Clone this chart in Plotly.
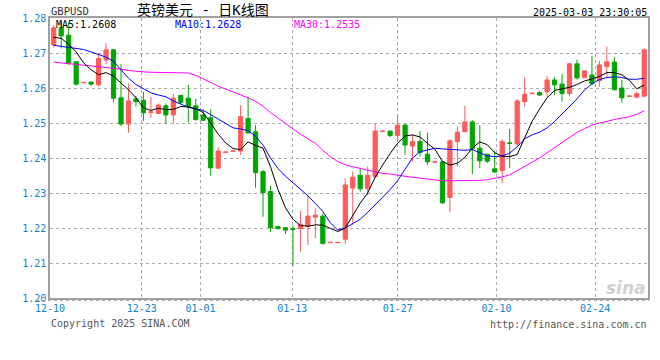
import plotly.graph_objects as go

# ---- data ----
opens = [1.2723, 1.2772, 1.2751, 1.2675, 1.2615, 1.2617, 1.2609, 1.2680, 1.2709, 1.2572,
         1.2497, 1.2569, 1.2565, 1.2530, 1.2527, 1.2549, 1.2523, 1.2579, 1.2571, 1.2549,
         1.2523, 1.2515, 1.2371, 1.2416, 1.2419, 1.2420, 1.2513, 1.2475, 1.2361, 1.2304,
         1.2204, 1.2201, 1.2198, 1.2198, 1.2205, 1.2231, 1.2234, 1.2158, 1.2158, 1.2168,
         1.2314, 1.2351, 1.2312, 1.2347, 1.2476, 1.2477, 1.2464, 1.2494, 1.2434, 1.2447,
         1.2411, 1.2388, 1.2389, 1.2287, 1.2447, 1.2475, 1.2503, 1.2428, 1.2411, 1.2369,
         1.2364, 1.2443, 1.2440, 1.2561, 1.2584, 1.2587, 1.2589, 1.2623, 1.2611, 1.2584,
         1.2669, 1.2629, 1.2637, 1.2621, 1.2661, 1.2674, 1.2600, 1.2576, 1.2574, 1.2577]
highs = [1.2780, 1.2789, 1.2788, 1.2677, 1.2617, 1.2618, 1.2699, 1.2728, 1.2712, 1.2668,
         1.2613, 1.2577, 1.2589, 1.2575, 1.2556, 1.2556, 1.2583, 1.2579, 1.2609, 1.2569,
         1.2539, 1.2539, 1.2431, 1.2418, 1.2421, 1.2551, 1.2575, 1.2494, 1.2366, 1.2320,
         1.2206, 1.2202, 1.2207, 1.2249, 1.2294, 1.2256, 1.2241, 1.2160, 1.2160, 1.2342,
         1.2361, 1.2371, 1.2375, 1.2499, 1.2478, 1.2477, 1.2523, 1.2499, 1.2466, 1.2477,
         1.2472, 1.2390, 1.2389, 1.2454, 1.2491, 1.2549, 1.2508, 1.2494, 1.2411, 1.2420,
         1.2454, 1.2483, 1.2569, 1.2631, 1.2586, 1.2591, 1.2635, 1.2631, 1.2640, 1.2672,
         1.2681, 1.2649, 1.2692, 1.2677, 1.2718, 1.2689, 1.2623, 1.2578, 1.2589, 1.2713]
lows = [1.2716, 1.2713, 1.2666, 1.2607, 1.2614, 1.2606, 1.2604, 1.2668, 1.2559, 1.2491,
        1.2472, 1.2547, 1.2506, 1.2515, 1.2527, 1.2497, 1.2499, 1.2554, 1.2502, 1.2506,
        1.2507, 1.2349, 1.2369, 1.2415, 1.2418, 1.2409, 1.2470, 1.2315, 1.2232, 1.2188,
        1.2197, 1.2183, 1.2092, 1.2132, 1.2151, 1.2171, 1.2153, 1.2157, 1.2157, 1.2154,
        1.2209, 1.2304, 1.2294, 1.2342, 1.2476, 1.2460, 1.2447, 1.2409, 1.2390, 1.2404,
        1.2380, 1.2387, 1.2269, 1.2245, 1.2375, 1.2475, 1.2354, 1.2371, 1.2386, 1.2357,
        1.2329, 1.2372, 1.2435, 1.2547, 1.2584, 1.2577, 1.2575, 1.2580, 1.2561, 1.2576,
        1.2624, 1.2629, 1.2607, 1.2604, 1.2632, 1.2593, 1.2558, 1.2576, 1.2569, 1.2573]
closes = [1.2772, 1.2749, 1.2672, 1.2611, 1.2616, 1.2611, 1.2684, 1.2709, 1.2571, 1.2497,
          1.2563, 1.2561, 1.2529, 1.2532, 1.2551, 1.2523, 1.2571, 1.2559, 1.2547, 1.2510,
          1.2508, 1.2372, 1.2420, 1.2417, 1.2420, 1.2518, 1.2472, 1.2358, 1.2301, 1.2201,
          1.2198, 1.2194, 1.2196, 1.2211, 1.2234, 1.2237, 1.2156, 1.2159, 1.2159, 1.2323,
          1.2345, 1.2312, 1.2351, 1.2477, 1.2477, 1.2464, 1.2494, 1.2437, 1.2447, 1.2416,
          1.2389, 1.2389, 1.2272, 1.2449, 1.2474, 1.2503, 1.2427, 1.2392, 1.2391, 1.2360,
          1.2447, 1.2442, 1.2563, 1.2582, 1.2585, 1.2580, 1.2623, 1.2609, 1.2584, 1.2669,
          1.2629, 1.2649, 1.2613, 1.2666, 1.2675, 1.2595, 1.2572, 1.2577, 1.2584, 1.2709]

ma5 = [1.2745, 1.2742, 1.2725, 1.2703, 1.2672, 1.2652, 1.2638, 1.2644, 1.2634, 1.2615,
       1.2595, 1.2572, 1.2543, 1.2536, 1.2542, 1.2538, 1.2539, 1.2547, 1.2546, 1.2541,
       1.2530, 1.2500, 1.2468, 1.2443, 1.2427, 1.2424, 1.2446, 1.2436, 1.2428, 1.2375,
       1.2310, 1.2258, 1.2225, 1.2207, 1.2205, 1.2209, 1.2208, 1.2199, 1.2190, 1.2200,
       1.2235, 1.2271, 1.2300, 1.2345, 1.2380, 1.2413, 1.2442, 1.2463, 1.2466, 1.2460,
       1.2442, 1.2425, 1.2390, 1.2380, 1.2385, 1.2402, 1.2428, 1.2446, 1.2438, 1.2415,
       1.2405, 1.2404, 1.2410, 1.2458, 1.2505, 1.2540, 1.2572, 1.2593, 1.2597, 1.2602,
       1.2610, 1.2620, 1.2626, 1.2633, 1.2644, 1.2644, 1.2638, 1.2622, 1.2598, 1.2608]
ma10 = [1.2722, 1.2719, 1.2716, 1.2713, 1.2710, 1.2703, 1.2695, 1.2688, 1.2676, 1.2651,
        1.2628, 1.2610, 1.2597, 1.2586, 1.2580, 1.2575, 1.2563, 1.2553, 1.2545, 1.2540,
        1.2536, 1.2524, 1.2512, 1.2500, 1.2486, 1.2483, 1.2478, 1.2462, 1.2437, 1.2400,
        1.2370, 1.2348, 1.2330, 1.2310, 1.2292, 1.2270, 1.2247, 1.2215, 1.2194, 1.2200,
        1.2212, 1.2225, 1.2245, 1.2268, 1.2288, 1.2310, 1.2335, 1.2368, 1.2400, 1.2418,
        1.2424, 1.2428, 1.2426, 1.2424, 1.2422, 1.2422, 1.2424, 1.2414, 1.2406, 1.2404,
        1.2406, 1.2414, 1.2432, 1.2455, 1.2466, 1.2474, 1.2486, 1.2504, 1.2525, 1.2546,
        1.2569, 1.2594, 1.2612, 1.2624, 1.2630, 1.2632, 1.2630, 1.2625, 1.2625, 1.2628]
ma30 = [1.2674, 1.2672, 1.2670, 1.2668, 1.2666, 1.2663, 1.2661, 1.2659, 1.2657, 1.2654,
        1.2650, 1.2647, 1.2646, 1.2645, 1.2645, 1.2645, 1.2645, 1.2645, 1.2643, 1.2636,
        1.2627, 1.2616, 1.2605, 1.2597, 1.2590, 1.2581, 1.2572, 1.2562, 1.2548, 1.2530,
        1.2514, 1.2498, 1.2482, 1.2468, 1.2455, 1.2442, 1.2422, 1.2404, 1.2390, 1.2381,
        1.2375, 1.2370, 1.2364, 1.2359, 1.2356, 1.2354, 1.2352, 1.2348, 1.2345, 1.2342,
        1.2339, 1.2337, 1.2335, 1.2335, 1.2335, 1.2335, 1.2335, 1.2336, 1.2338, 1.2341,
        1.2346, 1.2352, 1.2364, 1.2375, 1.2388, 1.2400, 1.2415, 1.2429, 1.2444, 1.2459,
        1.2473, 1.2484, 1.2494, 1.2500, 1.2506, 1.2510, 1.2514, 1.2518, 1.2525, 1.2535]

tick_labels = ["12-10", "12-23", "01-01", "01-13", "01-27", "02-10", "02-24"]
tick_pos = [-0.49, 11.77, 19.63, 31.9, 46.03, 59.23, 72.43]

symbol = "GBPUSD"
title = "英镑美元 - 日K线图"
stamp = "2025-03-03 23:30:05"

x = list(range(len(opens)))

RED = "#FF5A5A"
GREEN = "#00A600"
BLUE_TXT = "#1082D2"
MONO = "DejaVu Sans Mono"

fig = go.Figure()
fig.add_trace(go.Candlestick(
    x=x, open=opens, high=highs, low=lows, close=closes,
    increasing=dict(line=dict(color=RED, width=1), fillcolor=RED),
    decreasing=dict(line=dict(color=GREEN, width=1), fillcolor=GREEN),
    whiskerwidth=0, hoverinfo="skip"))
for vals, col in ((ma30, "#FF00FF"), (ma10, "#0000FF"), (ma5, "#000000")):
    fig.add_trace(go.Scatter(x=x, y=vals, mode="lines",
                             line=dict(color=col, width=1), hoverinfo="skip"))

L, R, T, B = 50, 10, 18, 62
W, H = 660, 360
pw, ph = W - L - R, H - T - B


def px_x(p):
    return (p - L) / pw


def px_y(p):
    return (H - B - p) / ph


def ann(text, xp, yp, anchor, color, size=10, family=MONO, **kw):
    return dict(text=text, x=px_x(xp), y=px_y(yp), xref="paper", yref="paper",
                xanchor=anchor, yanchor="middle", showarrow=False, borderpad=0,
                font=dict(family=family, size=size, color=color, **kw))


annotations = [
    ann(symbol, 50, 11, "left", "#333333", size=10.5),
    ann(title, 204, 10, "center", "#000000", size=14,
        family="DejaVu Sans Mono, Noto Sans CJK SC"),
    ann(stamp, 650, 12, "right", "#000000"),
    ann(f"MA5:{ma5[-1]:.4f}", 55, 24, "left", "#000000"),
    ann(f"MA10:{ma10[-1]:.4f}", 174, 24, "left", "#0000FF"),
    ann(f"MA30:{ma30[-1]:.4f}", 294, 24, "left", "#FF00FF"),
    ann("Copyright 2025 SINA.COM", 50, 323.5, "left", "#555555"),
    ann("http://finance.sina.com.cn", 650, 324, "right", "#555555"),
    ann("sina", 649, 288, "right", "#D0D0D0", size=17, family="DejaVu Sans",
        weight="bold", style="italic"),
]

fig.update_layout(
    width=W, height=H, margin=dict(l=L, r=R, t=T, b=B),
    paper_bgcolor="white", plot_bgcolor="white",
    showlegend=False, boxgap=0.2,
    annotations=annotations,
    shapes=[dict(type="line", xref="paper", yref="paper",
                 x0=px_x(36), x1=px_x(651), y0=px_y(300.5), y1=px_y(300.5),
                 line=dict(color="#AAAAAA", width=1, dash="dot"))],
)
fig.update_xaxes(
    range=[-0.5, len(opens) - 0.5], tickvals=tick_pos, ticktext=tick_labels,
    showgrid=True, gridcolor="#AAAAAA", griddash="dot", gridwidth=1,
    showline=True, mirror=True, linecolor="#A0A0A0", linewidth=1.5,
    ticks="", zeroline=False, rangeslider=dict(visible=False),
    tickfont=dict(family=MONO, size=10, color=BLUE_TXT), ticklabelstandoff=0)
fig.update_yaxes(
    range=[1.20, 1.28], dtick=0.01, tick0=1.20, tickformat=".2f",
    showgrid=True, gridcolor="#AAAAAA", griddash="dot", gridwidth=1,
    showline=True, mirror=True, linecolor="#A0A0A0", linewidth=1.5,
    ticks="", zeroline=False,
    tickfont=dict(family=MONO, size=10, color=BLUE_TXT))

fig.write_html("out.html")
